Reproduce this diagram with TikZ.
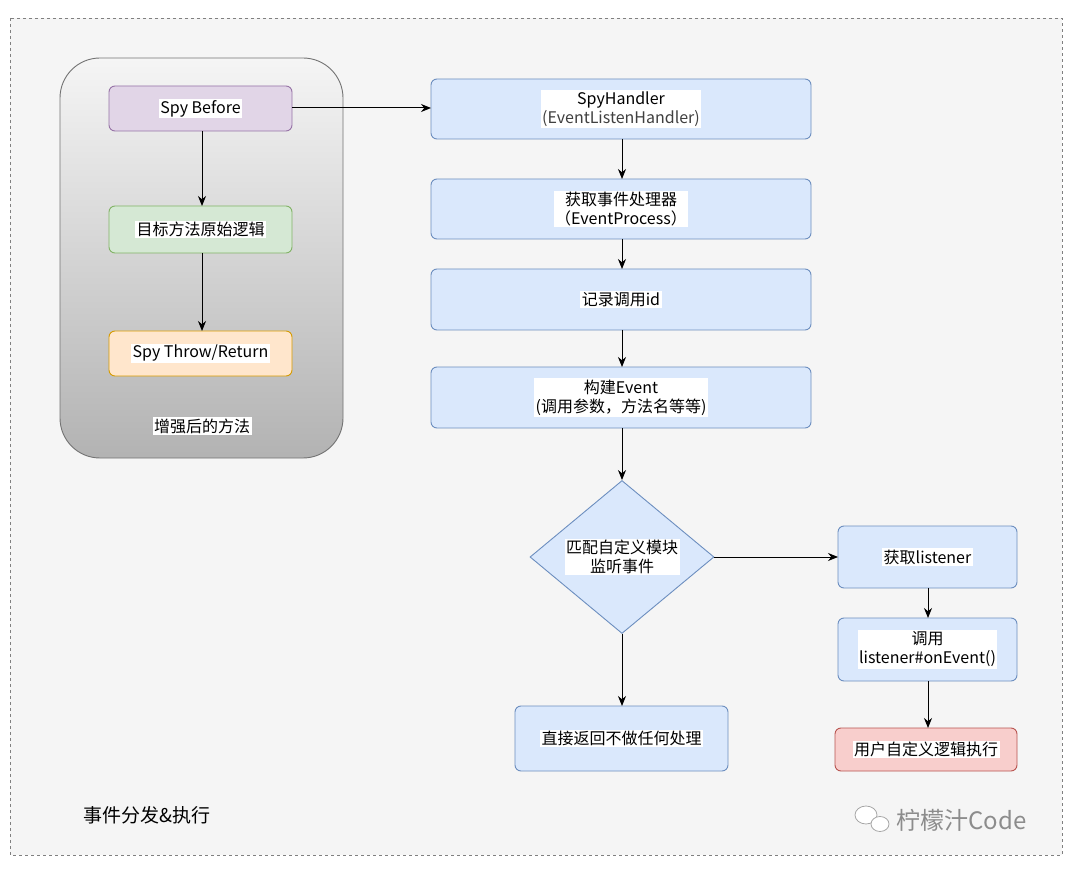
\documentclass[tikz,border=0pt]{standalone}
\usepackage{fontspec}
\setmainfont{Noto Sans CJK SC}
\usetikzlibrary{shapes.geometric,arrows.meta}
\definecolor{bgc}{HTML}{F5F5F5}
\definecolor{blf}{HTML}{DAE8FC}\definecolor{bld}{HTML}{6C8EBF}
\definecolor{puf}{HTML}{E1D5E7}\definecolor{pud}{HTML}{9673A6}
\definecolor{grf}{HTML}{D5E8D4}\definecolor{grd}{HTML}{82B366}
\definecolor{orf}{HTML}{FFE6CC}\definecolor{ord}{HTML}{D79B00}
\definecolor{ref}{HTML}{F8CECC}\definecolor{red}{HTML}{B85450}
\tikzset{
 box/.style={draw=bld,fill=blf,rounded corners=6pt,line width=0.9pt},
 lbl/.style={fill=white,inner sep=1.5pt,font=\fontsize{16}{19}\selectfont,align=center},
 arr/.style={-{Stealth[length=10pt,width=8pt]},line width=1pt},
}
\begin{document}
\begin{tikzpicture}[x=1pt,y=-1pt]
\useasboundingbox (0,0) rectangle (1080,869);
\draw[dashed,draw=gray,fill=bgc,line width=0.8pt] (10,18) rectangle (1062,855);
\draw[draw=gray!90!black,top color=bgc,bottom color=black!30,rounded corners=40pt,line width=0.9pt] (60,58) rectangle (343,458);
\node[lbl] (enh) at (202,426) {增强后的方法};
% left boxes
\draw[box,draw=pud,fill=puf] (109,86) rectangle (292,131);
\node[lbl] (sb) at (200.5,108.5) {Spy Before};
\coordinate (sbR) at (292,108); \coordinate (sbB) at (202,131);
\draw[box,draw=grd,fill=grf] (109,206) rectangle (292,253);
\node[lbl] (tm) at (200.5,229.5) {目标方法原始逻辑};
\coordinate (tmT) at (202,206); \coordinate (tmB) at (202,253);
\draw[box,draw=ord,fill=orf] (109,331) rectangle (292,376);
\node[lbl] (st) at (200.5,353.5) {Spy Throw/Return};
\coordinate (stT) at (202,331);
% right column
\draw[box] (431,79) rectangle (811,139);
\node[lbl] (sh) at (621,109) {SpyHandler\\\textcolor{black!75}{(EventListenHandler)}};
\coordinate (shL) at (431,108);\coordinate (shB) at (622,139);
\draw[box] (431,179) rectangle (811,239);
\node[lbl] (ep) at (621,209) {获取事件处理器\\（EventProcess）};
\coordinate (epT) at (622,179);\coordinate (epB) at (622,239);
\draw[box] (431,269) rectangle (811,330);
\node[lbl] (id) at (621,299.5) {记录调用id};
\coordinate (idT) at (622,269);\coordinate (idB) at (622,330);
\draw[box] (431,367) rectangle (811,428);
\node[lbl] (ev) at (621,397.5) {构建Event\\(调用参数，方法名等等)};
\coordinate (evT) at (622,367);\coordinate (evB) at (622,428);
\node[diamond,draw=bld,fill=blf,line width=0.9pt,minimum width=184pt,minimum height=153pt,inner sep=0pt,aspect=1.2] (dm) at (622,557) {};
\node[lbl] at (622,557) {匹配自定义模块\\监听事件};
\draw[box] (515,706) rectangle (728,771);
\node[lbl] (ret) at (621.5,738.5) {直接返回不做任何处理};
\coordinate (retT) at (622,706);
\draw[box] (838,526) rectangle (1017,588);
\node[lbl] (gl) at (927.5,557) {获取listener};
\coordinate (glL) at (838,557);\coordinate (glB) at (928,588);
\draw[box] (838,618) rectangle (1017,681);
\node[lbl] (cl) at (927.5,649.5) {调用\\listener\#onEvent()};
\coordinate (clT) at (928,618);\coordinate (clB) at (928,681);
\draw[box,draw=red,fill=ref] (835,728) rectangle (1017,771);
\node[lbl] (us) at (926,749.5) {用户自定义逻辑执行};
\coordinate (usT) at (928,728);
% arrows
\draw[arr] (sbB) -- (tmT);
\draw[arr] (tmB) -- (stT);
\draw[arr] (sbR) -- (shL);
\draw[arr] (shB) -- (epT);
\draw[arr] (epB) -- (idT);
\draw[arr] (idB) -- (evT);
\draw[arr] (evB) -- (dm.north);
\draw[arr] (dm.south) -- (retT);
\draw[arr] (dm.east) -- (glL);
\draw[arr] (glB) -- (clT);
\draw[arr] (clB) -- (usT);
\node[font=\fontsize{19}{22}\selectfont,anchor=west] (title) at (80,815) {事件分发\&执行};
\node[font=\fontsize{24}{26}\selectfont,text=black!45,anchor=west] (wm) at (893,820) {柠檬汁Code};
\draw[black!35,fill=white,line width=0.8pt] (866,815) ellipse (11pt and 9pt);
\draw[black!35,fill=white,line width=0.8pt] (880,824) ellipse (9pt and 7.5pt);
\end{tikzpicture}
\end{document}
